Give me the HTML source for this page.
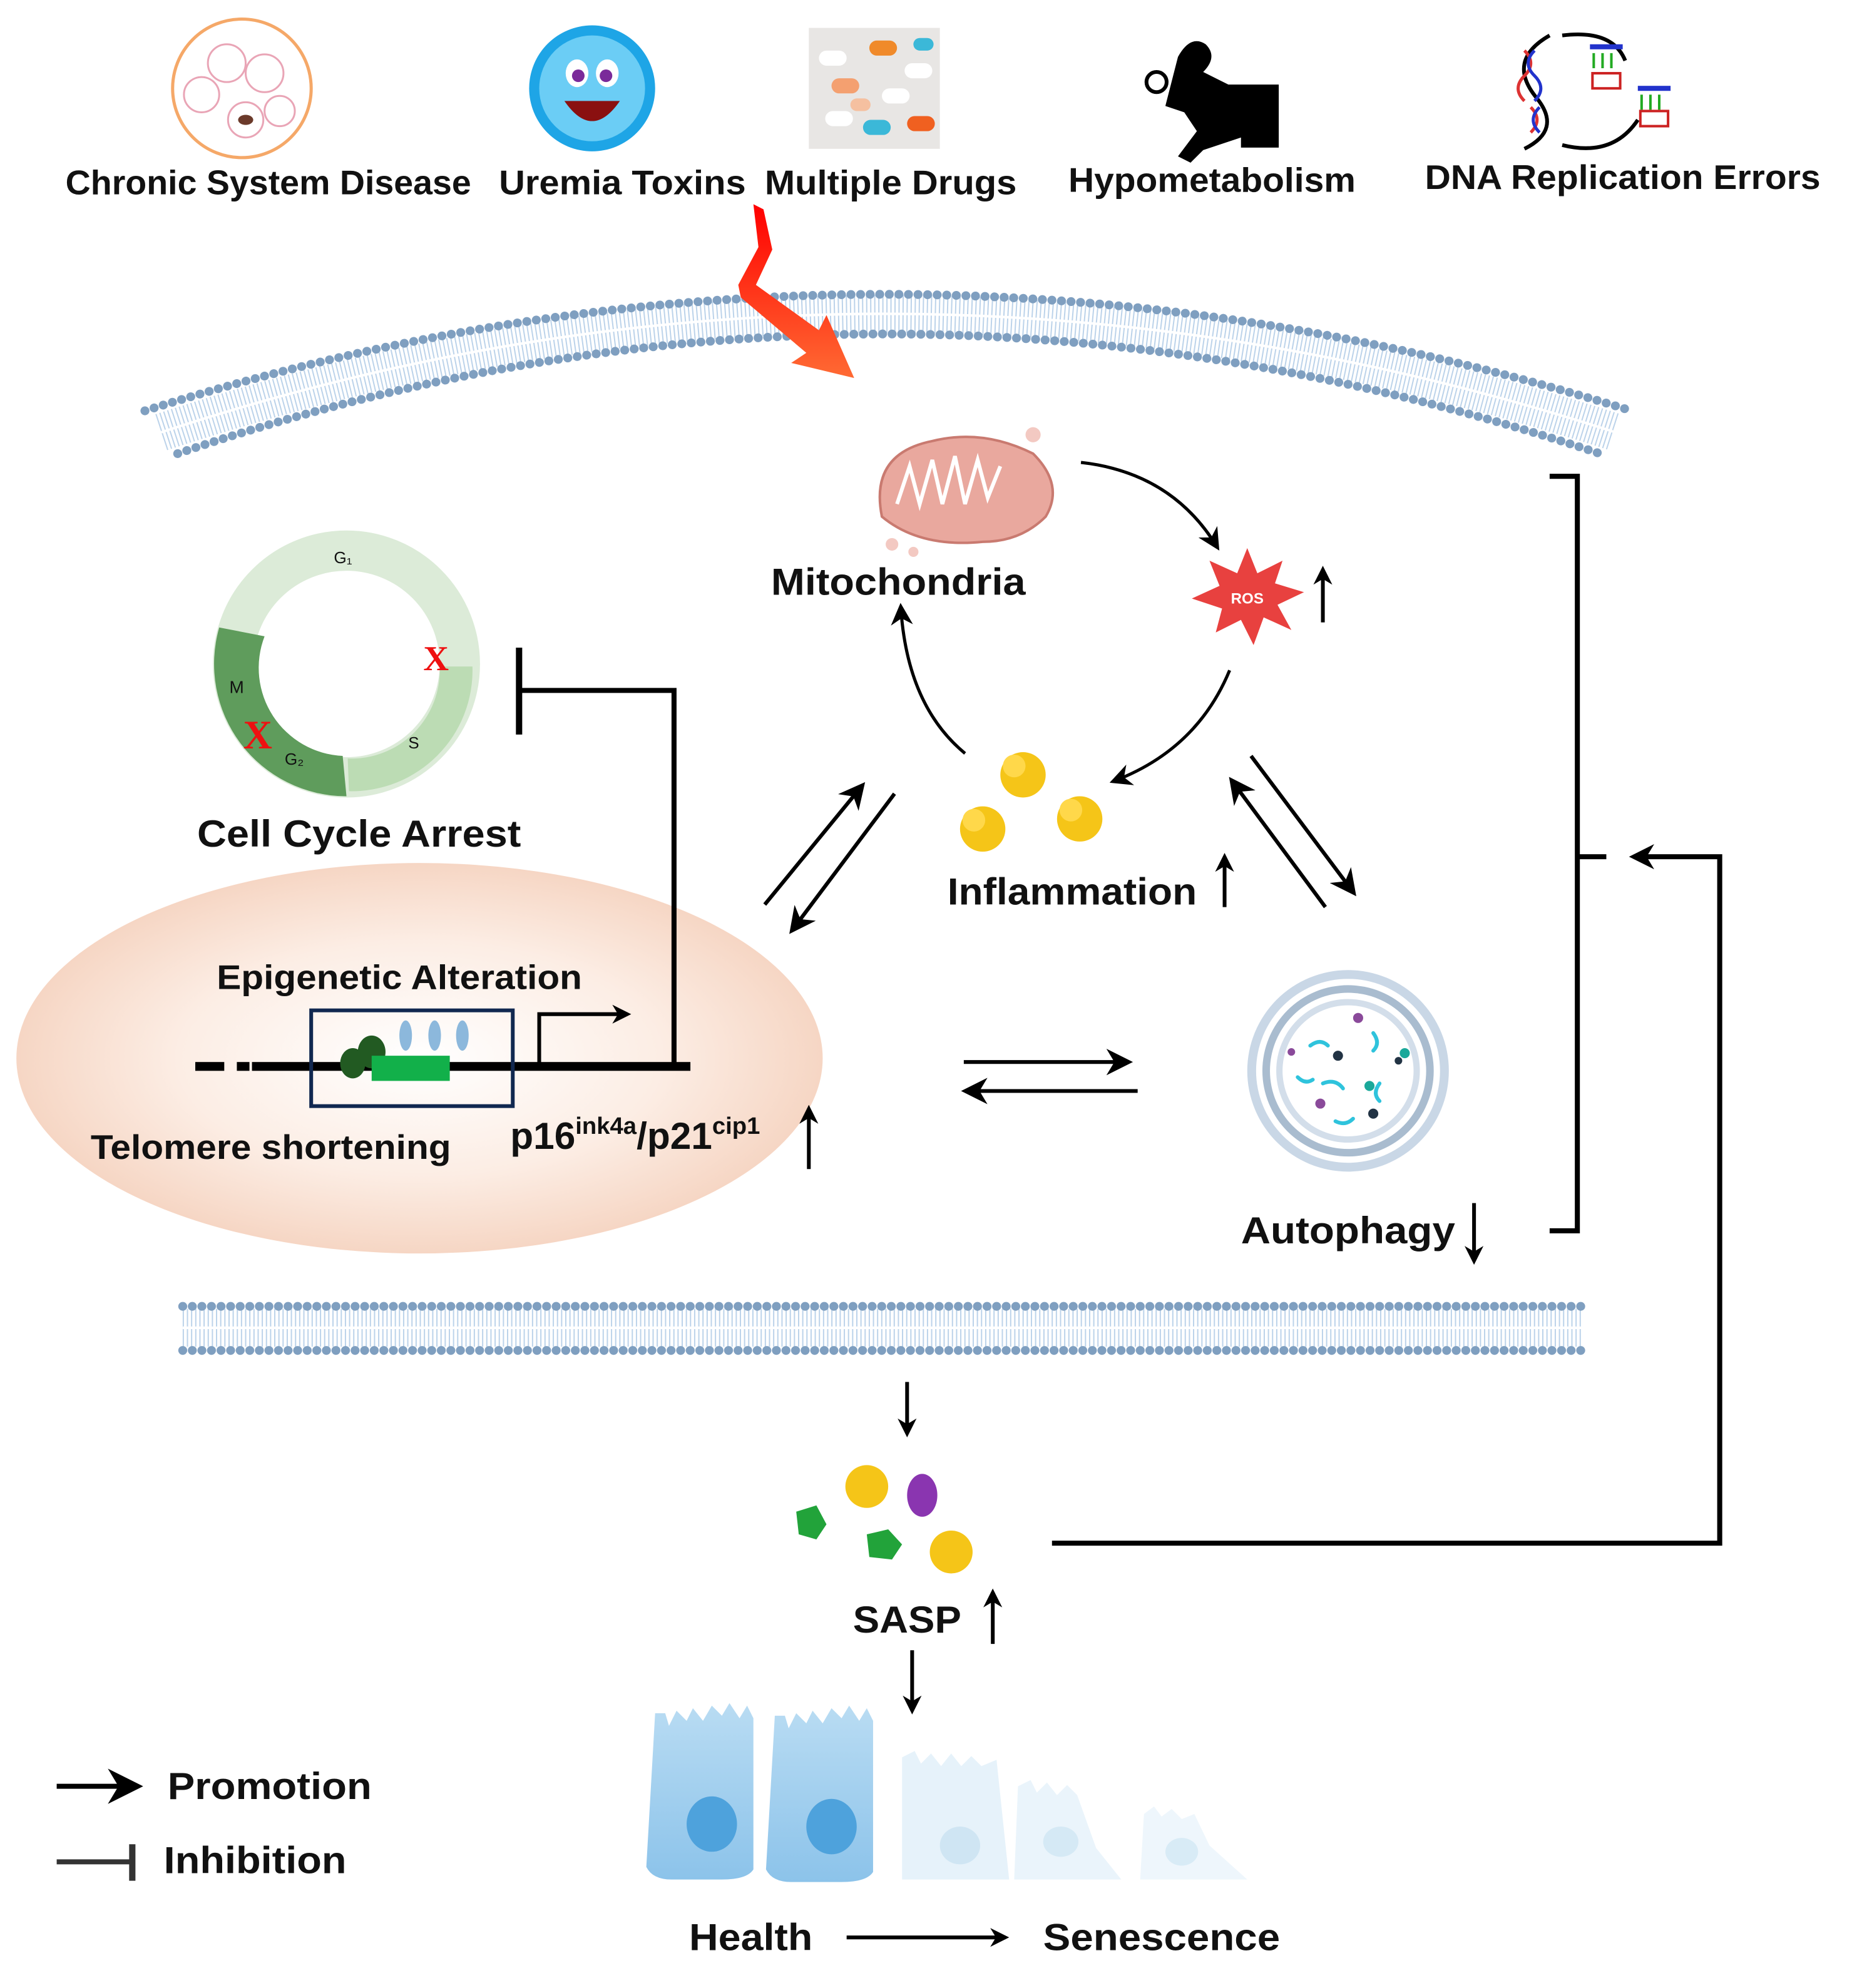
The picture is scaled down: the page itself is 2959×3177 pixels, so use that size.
<!DOCTYPE html>
<html><head><meta charset="utf-8"><style>html,body{margin:0;padding:0;background:#fff}svg{display:block}text{font-family:"Liberation Sans",Arial,sans-serif;font-weight:bold;fill:#111}</style></head>
<body>
<svg width="2959" height="3177" viewBox="0 0 1470 1578" xmlns="http://www.w3.org/2000/svg">
<defs>
<marker id="ah" viewBox="0 0 10 10" refX="8" refY="5" markerWidth="5" markerHeight="5" orient="auto"><path d="M0,0 L10,5 L0,10 L3,5 z" fill="#000"/></marker>
<marker id="ahs" viewBox="0 0 10 10" refX="8" refY="5" markerWidth="7" markerHeight="7" orient="auto"><path d="M0,0 L10,5 L0,10 L3,5 z" fill="#000"/></marker>
<radialGradient id="nuc" cx="0.5" cy="0.5" r="0.5"><stop offset="0" stop-color="#fff"/><stop offset="0.6" stop-color="#fcede4"/><stop offset="1" stop-color="#f6d6c4"/></radialGradient>
<linearGradient id="bolt" x1="0" y1="0" x2="0" y2="1"><stop offset="0" stop-color="#f00"/><stop offset="1" stop-color="#ff6a33"/></linearGradient>
<linearGradient id="cellg" x1="0" y1="0" x2="0" y2="1"><stop offset="0" stop-color="#b9dcf3"/><stop offset="1" stop-color="#8cc3ea"/></linearGradient>
</defs>

<circle cx="192" cy="70" r="55" fill="#fff" stroke="#f5a868" stroke-width="2.5"/>
<circle cx="180" cy="50" r="15" fill="none" stroke="#e9a5b6" stroke-width="1.5"/>
<circle cx="210" cy="58" r="15" fill="none" stroke="#e9a5b6" stroke-width="1.5"/>
<circle cx="160" cy="75" r="14" fill="none" stroke="#e9a5b6" stroke-width="1.5"/>
<circle cx="195" cy="95" r="14" fill="none" stroke="#e9a5b6" stroke-width="1.5"/>
<circle cx="222" cy="88" r="12" fill="none" stroke="#e9a5b6" stroke-width="1.5"/>
<ellipse cx="195" cy="95" rx="6" ry="4" fill="#6b3a2a"/>
<circle cx="470" cy="70" r="50" fill="#1ea5e6"/>
<circle cx="470" cy="70" r="42" fill="#6bcdf5"/>
<ellipse cx="458" cy="58" rx="9" ry="11" fill="#fff"/><ellipse cx="482" cy="58" rx="9" ry="11" fill="#fff"/>
<circle cx="459" cy="60" r="5" fill="#7a2a9a"/><circle cx="481" cy="60" r="5" fill="#7a2a9a"/>
<path d="M448,80 Q470,112 492,80 Z" fill="#8a1010"/>
<rect x="642" y="22" width="104" height="96" fill="#e8e6e4"/>
<g>
<rect x="650" y="40" width="22" height="12" rx="6" fill="#fff"/><rect x="690" y="32" width="22" height="12" rx="6" fill="#f08a2a"/>
<rect x="718" y="50" width="22" height="12" rx="6" fill="#fff"/><rect x="660" y="62" width="22" height="12" rx="6" fill="#f4a070"/>
<rect x="700" y="70" width="22" height="12" rx="6" fill="#fff"/><rect x="655" y="88" width="22" height="12" rx="6" fill="#fff"/>
<rect x="685" y="95" width="22" height="12" rx="6" fill="#3bb8d8"/><rect x="720" y="92" width="22" height="12" rx="6" fill="#f06020"/>
<rect x="725" y="30" width="16" height="10" rx="5" fill="#3bb8d8"/><rect x="675" y="78" width="16" height="10" rx="5" fill="#f5c0a0"/>
</g>
<path d="M935,45 q10,-18 22,-10 q10,10 -2,22 l20,10 l40,0 l0,50 l-30,0 l0,-8 l-30,10 l-10,10 l-10,-5 l15,-20 l-10,-15 l-15,-5 z" fill="#000"/>
<circle cx="918" cy="65" r="8" fill="none" stroke="#000" stroke-width="3"/>
<path d="M1230,28 q-35,20 -10,50 q20,25 -10,40 M1240,28 q40,-5 50,20 M1240,115 q40,10 60,-20" fill="none" stroke="#000" stroke-width="3"/>
<path d="M1210,40 q10,10 0,20 q-10,10 0,20 M1215,85 q10,10 0,20" fill="none" stroke="#d33" stroke-width="2.5"/>
<path d="M1218,40 q-10,10 0,20 q10,10 0,20 M1222,85 q-10,10 0,20" fill="none" stroke="#23c" stroke-width="2.5"/>
<rect x="1262" y="35" width="26" height="4" fill="#23c"/><rect x="1300" y="68" width="26" height="4" fill="#23c"/>
<path d="M1265,42 v12 M1272,42 v12 M1279,42 v12 M1303,75 v12 M1310,75 v12 M1317,75 v12" stroke="#2a2" stroke-width="2"/>
<rect x="1264" y="58" width="22" height="12" fill="none" stroke="#c22" stroke-width="2"/><rect x="1302" y="88" width="22" height="12" fill="none" stroke="#c22" stroke-width="2"/>

<g font-size="27">
<text x="52" y="154" textLength="322" lengthAdjust="spacingAndGlyphs">Chronic System Disease</text>
<text x="396" y="154" textLength="196" lengthAdjust="spacingAndGlyphs">Uremia Toxins</text>
<text x="607" y="154" textLength="200" lengthAdjust="spacingAndGlyphs">Multiple Drugs</text>
<text x="848" y="152" textLength="228" lengthAdjust="spacingAndGlyphs">Hypometabolism</text>
<text x="1131" y="150" textLength="314" lengthAdjust="spacingAndGlyphs">DNA Replication Errors</text>
</g>

<path d="M128,343 Q700,155 1282,343" fill="none" stroke="#bcd3ea" stroke-width="30" stroke-dasharray="1 2.2"/>
<path d="M128,343 Q700,155 1282,343" fill="none" stroke="#fff" stroke-width="2"/>
<path d="M115,326 Q700,141 1295,326" fill="none" stroke="#7f9fc0" stroke-width="7" stroke-dasharray="0.1 7.5" stroke-linecap="round"/>
<path d="M141,360 Q700,170 1270,360" fill="none" stroke="#7f9fc0" stroke-width="7" stroke-dasharray="0.1 7.5" stroke-linecap="round"/>

<polygon points="598,162 606,166 613,198 600,226 650,262 656,250 678,300 628,288 640,280 588,236 586,226 602,196" fill="url(#bolt)"/>

<path d="M700,410 q-10,-50 40,-60 q40,-10 80,10 q25,25 10,50 q-20,20 -50,20 q-50,5 -80,-20 z" fill="#e9a89e" stroke="#c97a70" stroke-width="2"/>
<path d="M712,400 l10,-30 l8,30 l10,-35 l8,35 l10,-38 l8,38 l10,-35 l8,30 l10,-25" fill="none" stroke="#fff" stroke-width="3"/>
<circle cx="820" cy="345" r="6" fill="#f3c9c2"/><circle cx="708" cy="432" r="5" fill="#f3c9c2"/><circle cx="725" cy="438" r="4" fill="#f3c9c2"/>
<text x="713" y="472" font-size="30" text-anchor="middle" textLength="202" lengthAdjust="spacingAndGlyphs">Mitochondria</text>

<polygon points="990,435 998,455 1018,445 1012,463 1035,470 1014,480 1025,500 1003,490 995,512 985,492 965,502 970,483 946,475 968,465 960,445 982,455" fill="#e8413f"/>
<text x="990" y="479" font-size="12" text-anchor="middle" style="fill:#fff">ROS</text>
<line x1="1050" y1="494" x2="1050" y2="452" stroke="#000" stroke-width="3" marker-end="url(#ah)"/>

<g fill="none" stroke="#000" stroke-width="2.5" marker-end="url(#ahs)">
<path d="M858,367 Q930,375 966,434"/>
<path d="M976,532 Q950,595 884,620"/>
<path d="M766,598 Q720,560 715,482"/>
</g>

<g fill="#f5c518">
<circle cx="812" cy="615" r="18"/><circle cx="780" cy="658" r="18"/><circle cx="857" cy="650" r="18"/>
</g>
<g fill="#ffd84a"><circle cx="805" cy="608" r="9"/><circle cx="773" cy="651" r="9"/><circle cx="850" cy="643" r="9"/></g>
<text x="851" y="718" font-size="30" text-anchor="middle" textLength="198" lengthAdjust="spacingAndGlyphs">Inflammation</text>
<line x1="972" y1="720" x2="972" y2="680" stroke="#000" stroke-width="3" marker-end="url(#ah)"/>

<g stroke="#000" stroke-width="3" marker-end="url(#ahs)">
<line x1="607" y1="718" x2="684" y2="624"/>
<line x1="710" y1="630" x2="629" y2="738"/>
<line x1="1052" y1="720" x2="978" y2="620"/>
<line x1="993" y1="600" x2="1074" y2="708"/>
<line x1="765" y1="843" x2="895" y2="843"/>
<line x1="903" y1="866" x2="767" y2="866"/>
</g>

<circle cx="1070" cy="850" r="80" fill="#c9d7e6"/>
<circle cx="1070" cy="850" r="73" fill="#fff"/>
<circle cx="1070" cy="850" r="68" fill="#a9bccf"/>
<circle cx="1070" cy="850" r="62" fill="#fff"/>
<circle cx="1070" cy="850" r="57" fill="#d3deea"/>
<circle cx="1070" cy="850" r="52" fill="#fff"/>
<g fill="none" stroke="#2fc3dc" stroke-width="3" stroke-linecap="round">
<path d="M1040,830 q8,-6 14,0"/><path d="M1090,820 q6,8 0,14"/><path d="M1050,860 q10,-4 16,4"/><path d="M1095,860 q-6,8 0,14"/><path d="M1060,890 q8,4 14,-2"/><path d="M1030,855 q6,6 12,2"/>
</g>
<g fill="#234"><circle cx="1062" cy="838" r="4"/><circle cx="1090" cy="884" r="4"/><circle cx="1110" cy="842" r="3"/></g>
<g fill="#8a4a9a"><circle cx="1078" cy="808" r="4"/><circle cx="1048" cy="876" r="4"/><circle cx="1025" cy="835" r="3"/></g>
<g fill="#1aa89a"><circle cx="1115" cy="836" r="4"/><circle cx="1087" cy="862" r="4"/></g>
<text x="1070" y="987" font-size="30" text-anchor="middle" textLength="170" lengthAdjust="spacingAndGlyphs">Autophagy</text>
<line x1="1170" y1="955" x2="1170" y2="1001" stroke="#000" stroke-width="3" marker-end="url(#ah)"/>

<path d="M1230,378 H1252 V977 H1230 M1252,680 H1275" fill="none" stroke="#000" stroke-width="4"/>
<path d="M835,1225 H1365 V680 H1297" fill="none" stroke="#000" stroke-width="4" marker-end="url(#ah)"/>

<circle cx="275" cy="527" r="90" fill="none" stroke="#dcebd8" stroke-width="32"/>
<path d="M371,529 A96,96 0 0 1 273,628 L272,602 A70,70 0 0 0 345,529 Z" fill="#bcdcb4" transform="translate(4,0)"/>
<path d="M174,498 L210,505 A70,70 0 0 0 272,600 L275,632 A105,105 0 0 1 174,498 Z" fill="#5f9c5c"/>
<text x="265" y="447" font-size="13" style="font-weight:normal">G₁</text>
<text x="182" y="550" font-size="14" style="font-weight:normal">M</text>
<text x="324" y="594" font-size="13" style="font-weight:normal">S</text>
<text x="226" y="607" font-size="13" style="font-weight:normal">G₂</text>
<text x="336" y="532" font-size="28" style="fill:#e11;font-family:'Liberation Serif',serif">X</text>
<text x="193" y="594" font-size="32" style="fill:#e11;font-family:'Liberation Serif',serif">X</text>
<text x="285" y="672" font-size="30" text-anchor="middle" textLength="257" lengthAdjust="spacingAndGlyphs">Cell Cycle Arrest</text>

<ellipse cx="333" cy="840" rx="320" ry="155" fill="url(#nuc)"/>
<text x="172" y="785" font-size="27" textLength="290" lengthAdjust="spacingAndGlyphs">Epigenetic Alteration</text>
<rect x="155" y="843" width="23" height="7" fill="#000"/><rect x="188" y="843" width="10" height="7" fill="#000"/>
<rect x="200" y="843" width="348" height="7" fill="#000"/>
<rect x="247" y="802" width="160" height="76" fill="none" stroke="#112850" stroke-width="3"/>
<ellipse cx="280" cy="844" rx="10" ry="12" fill="#225a22"/><ellipse cx="295" cy="835" rx="11" ry="13" fill="#225a22"/>
<rect x="295" y="838" width="62" height="20" fill="#12b04a"/>
<g fill="#8cb8dc"><ellipse cx="322" cy="822" rx="5" ry="12"/><ellipse cx="345" cy="822" rx="5" ry="12"/><ellipse cx="367" cy="822" rx="5" ry="12"/></g>
<path d="M428,846 V805 H498" fill="none" stroke="#000" stroke-width="3" marker-end="url(#ah)"/>
<path d="M535,846 V548 H412" fill="none" stroke="#000" stroke-width="4"/>
<line x1="412" y1="514" x2="412" y2="583" stroke="#000" stroke-width="5"/>
<text x="72" y="920" font-size="27" textLength="286" lengthAdjust="spacingAndGlyphs">Telomere shortening</text>
<text x="405" y="912" font-size="30">p16<tspan font-size="19" dy="-12">ink4a</tspan><tspan dy="12">/p21</tspan><tspan font-size="19" dy="-12">cip1</tspan></text>
<line x1="642" y1="928" x2="642" y2="880" stroke="#000" stroke-width="3" marker-end="url(#ah)"/>

<line x1="145" y1="1054" x2="1255" y2="1054" stroke="#bcd3ea" stroke-width="30" stroke-dasharray="1 2.3"/>
<line x1="145" y1="1054" x2="1255" y2="1054" stroke="#fff" stroke-width="2"/>
<line x1="145" y1="1037" x2="1255" y2="1037" stroke="#7f9fc0" stroke-width="7" stroke-dasharray="0.1 7.5" stroke-linecap="round"/>
<line x1="145" y1="1072" x2="1255" y2="1072" stroke="#7f9fc0" stroke-width="7" stroke-dasharray="0.1 7.5" stroke-linecap="round"/>

<line x1="720" y1="1097" x2="720" y2="1138" stroke="#000" stroke-width="3" marker-end="url(#ah)"/>
<polygon points="632,1200 648,1195 656,1210 648,1222 634,1218" fill="#22a33a"/>
<polygon points="688,1218 705,1214 716,1226 708,1238 690,1236" fill="#22a33a"/>
<ellipse cx="732" cy="1187" rx="12" ry="17" fill="#8a35b0"/>
<circle cx="688" cy="1180" r="17" fill="#f5c518"/><circle cx="755" cy="1232" r="17" fill="#f5c518"/>
<text x="720" y="1296" font-size="30" text-anchor="middle" textLength="86" lengthAdjust="spacingAndGlyphs">SASP</text>
<line x1="788" y1="1305" x2="788" y2="1264" stroke="#000" stroke-width="3" marker-end="url(#ah)"/>
<line x1="724" y1="1310" x2="724" y2="1358" stroke="#000" stroke-width="3" marker-end="url(#ah)"/>

<path d="M520,1360 l8,0 l3,10 l6,-12 l8,8 l5,-10 l8,10 l7,-12 l8,8 l6,-10 l8,12 l6,-10 l5,10 l0,120 q-5,8 -25,8 l-40,0 q-15,0 -20,-10 z" fill="url(#cellg)"/>
<ellipse cx="565" cy="1448" rx="20" ry="22" fill="#4ea2dc"/>
<path d="M615,1362 l8,0 l3,10 l6,-12 l8,8 l5,-10 l8,10 l7,-12 l8,8 l6,-10 l8,12 l6,-10 l5,10 l0,120 q-5,8 -25,8 l-40,0 q-15,0 -20,-10 z" fill="url(#cellg)"/>
<ellipse cx="660" cy="1450" rx="20" ry="22" fill="#4ea2dc"/>
<path d="M716,1395 l10,-5 l5,10 l8,-8 l8,10 l8,-10 l8,10 l8,-8 l8,8 l12,-5 l10,95 l-85,0 z" fill="#e6f2fa"/>
<ellipse cx="762" cy="1465" rx="16" ry="15" fill="#cfe5f3"/>
<path d="M808,1418 l10,-5 l5,10 l8,-8 l8,10 l8,-8 l8,8 l15,42 l20,25 l-85,0 z" fill="#eaf4fb"/>
<ellipse cx="842" cy="1462" rx="14" ry="12" fill="#d5e9f5"/>
<path d="M908,1440 l8,-6 l6,8 l8,-6 l8,8 l10,-4 l12,25 l30,27 l-85,0 z" fill="#eef6fc"/>
<ellipse cx="938" cy="1470" rx="13" ry="11" fill="#d8ebf6"/>

<text x="596" y="1548" font-size="30" text-anchor="middle" textLength="98" lengthAdjust="spacingAndGlyphs">Health</text>
<line x1="672" y1="1538" x2="798" y2="1538" stroke="#000" stroke-width="3" marker-end="url(#ah)"/>
<text x="922" y="1548" font-size="30" text-anchor="middle" textLength="188" lengthAdjust="spacingAndGlyphs">Senescence</text>

<line x1="45" y1="1418" x2="108" y2="1418" stroke="#000" stroke-width="4" marker-end="url(#ahs)"/>
<text x="133" y="1428" font-size="30" textLength="162" lengthAdjust="spacingAndGlyphs">Promotion</text>
<line x1="45" y1="1478" x2="105" y2="1478" stroke="#333" stroke-width="4"/>
<line x1="105" y1="1464" x2="105" y2="1493" stroke="#333" stroke-width="5"/>
<text x="130" y="1487" font-size="30" textLength="145" lengthAdjust="spacingAndGlyphs">Inhibition</text>
</svg>
</body></html>
